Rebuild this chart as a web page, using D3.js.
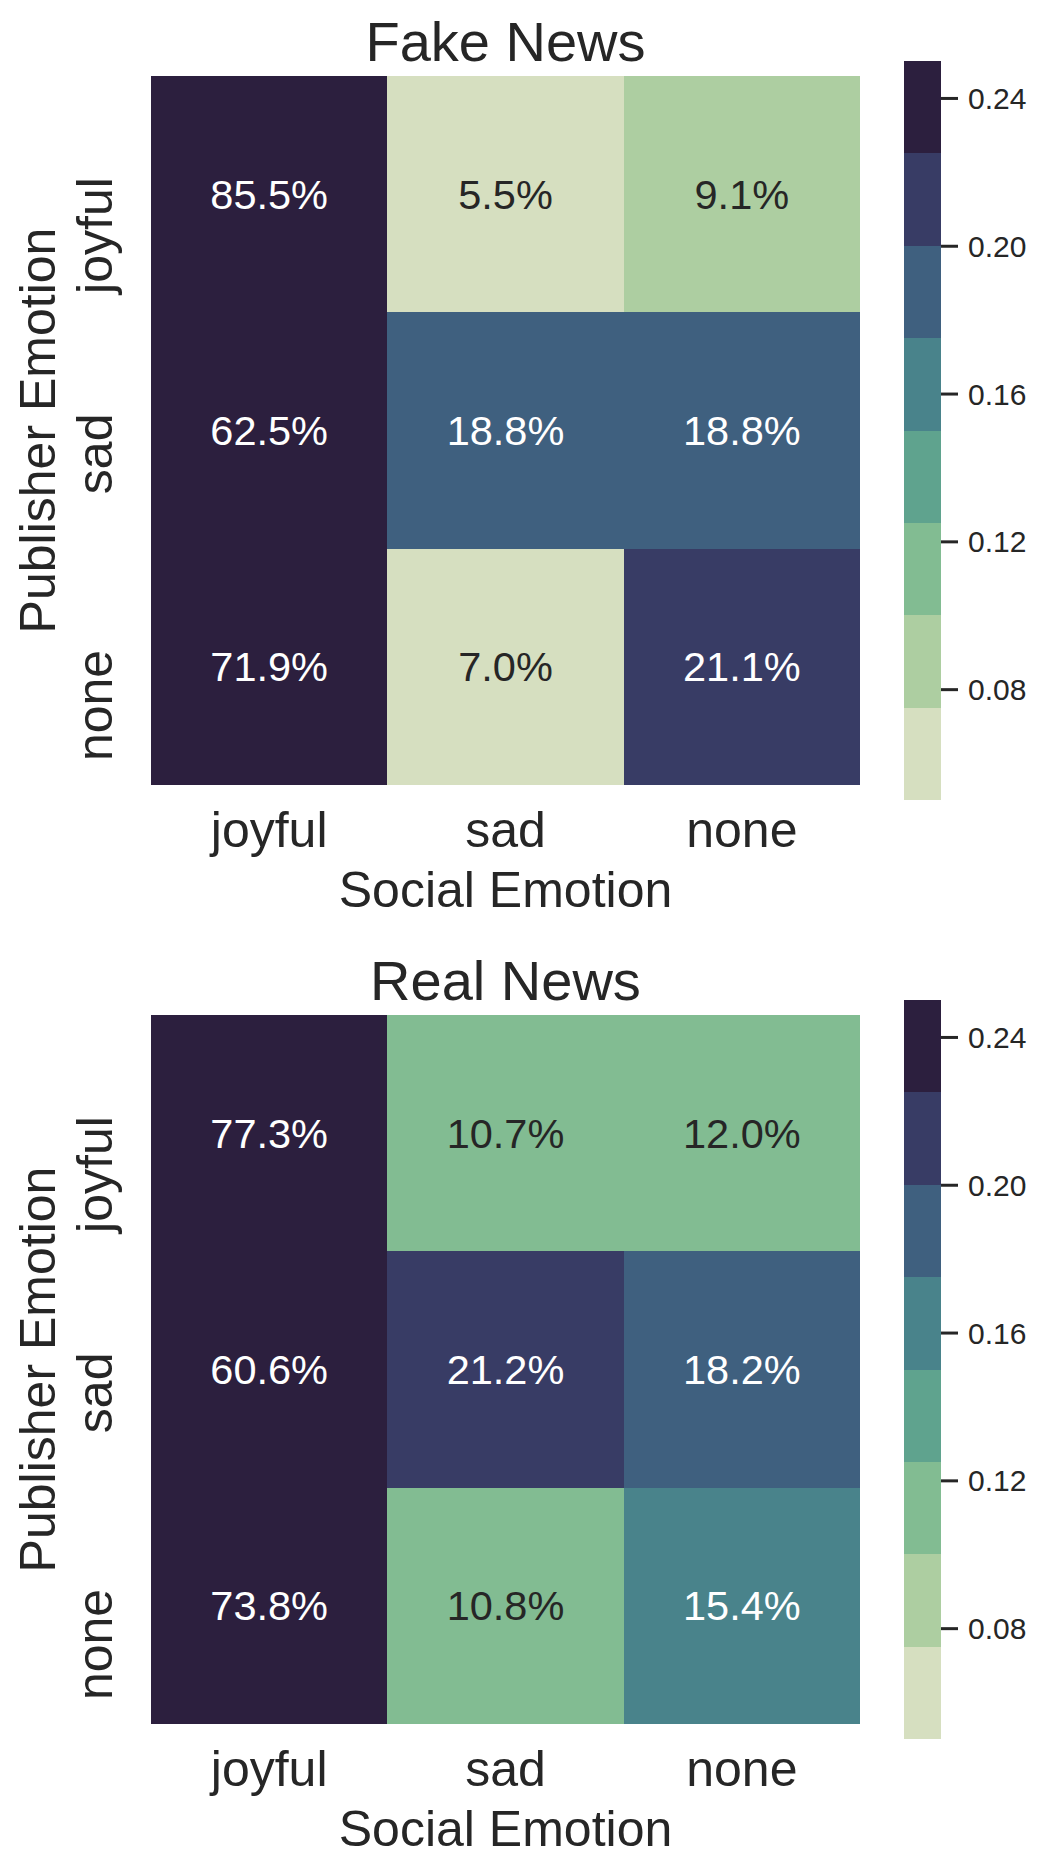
<!DOCTYPE html>
<html>
<head>
<meta charset="utf-8">
<script src="https://cdn.jsdelivr.net/npm/d3@7"></script>
<style>
  html, body { margin: 0; padding: 0; background: #ffffff; }
  svg { display: block; }
  text { font-family: "Liberation Sans", Arial, sans-serif; }
</style>
</head>
<body>
<svg id="chart" width="1046" height="1875"></svg>
<script>
// ---------- data ----------
const socialEmotions = ["joyful", "sad", "none"];      // columns (x)
const publisherEmotions = ["joyful", "sad", "none"];   // rows (y)
const panelTitles = ["Fake News", "Real News"];
// row-wise percentages (rows = publisher emotion, cols = social emotion)
const fakeNewsPct = [
  [85.5, 5.5, 9.1],
  [62.5, 18.8, 18.8],
  [71.9, 7.0, 21.1]
];
const realNewsPct = [
  [77.3, 10.7, 12.0],
  [60.6, 21.2, 18.2],
  [73.8, 10.8, 15.4]
];
const colorbarTicks = [0.08, 0.12, 0.16, 0.20, 0.24];
const colorDomain = [0.05, 0.25];
const xAxisLabel = "Social Emotion";
const yAxisLabel = "Publisher Emotion";

// ---------- palette: seaborn cubehelix_palette(8, start=.5, rot=-.75) ----------
function cubehelix(x, start = 0.5, rot = -0.75, hue = 0.8, gamma = 1) {
  const xg = Math.pow(x, gamma);
  const a = hue * xg * (1 - xg) / 2;
  const phi = 2 * Math.PI * (start / 3 + rot * x);
  const c = Math.cos(phi), s = Math.sin(phi);
  const clip = v => Math.max(0, Math.min(1, v));
  const r = clip(xg + a * (-0.14861 * c + 1.78277 * s));
  const g = clip(xg + a * (-0.29227 * c - 0.90649 * s));
  const b = clip(xg + a * (1.97294 * c));
  return d3.rgb(r * 255, g * 255, b * 255).formatHex();
}
const nColors = 8;
const palette = d3.range(nColors).map(i => cubehelix(0.85 - i * (0.7 / (nColors - 1))));

function luminance(hex) {
  const c = d3.rgb(hex);
  const lin = v => { v /= 255; return v <= 0.03928 ? v / 12.92 : Math.pow((v + 0.055) / 1.055, 2.4); };
  return 0.2126 * lin(c.r) + 0.7152 * lin(c.g) + 0.0722 * lin(c.b);
}

const color = d3.scaleQuantize().domain(colorDomain).range(palette);
const TEXT_DARK = "#262626";
const FONT = '"Liberation Sans", Arial, sans-serif';

// ---------- layout ----------
const svg = d3.select("#chart");
const HM = { left: 151, right: 860, top: 76, bottom: 785 };
const CB = { left: 904, right: 941, top: 61, bottom: 800 };
const panelOffsets = [0, 939];
const datasets = [fakeNewsPct, realNewsPct];
const LABEL_SIZE = 50;

const x = d3.scaleBand().domain(socialEmotions).range([HM.left, HM.right]);
const y = d3.scaleBand().domain(publisherEmotions).range([HM.top, HM.bottom]);
const cScale = d3.scaleLinear().domain(colorDomain).range([CB.bottom, CB.top]);

datasets.forEach((data, pi) => {
  const g = svg.append("g").attr("transform", `translate(0,${panelOffsets[pi]})`);

  const cells = [];
  data.forEach((row, ri) => row.forEach((v, ci) => {
    cells.push({ row: publisherEmotions[ri], col: socialEmotions[ci], pct: v, value: v / 100 });
  }));

  // cells
  g.append("g").selectAll("rect").data(cells).join("rect")
    .attr("x", d => x(d.col))
    .attr("y", d => y(d.row))
    .attr("width", x.bandwidth())
    .attr("height", y.bandwidth())
    .attr("fill", d => color(d.value))
    .attr("shape-rendering", "crispEdges");

  // annotations
  g.append("g").selectAll("text").data(cells).join("text")
    .attr("x", d => x(d.col) + x.bandwidth() / 2)
    .attr("y", d => y(d.row) + y.bandwidth() / 2)
    .attr("dy", "0.35em")
    .attr("text-anchor", "middle")
    .attr("font-size", 41.5)
    .attr("fill", d => luminance(color(d.value)) > 0.408 ? TEXT_DARK : "#ffffff")
    .text(d => d.pct.toFixed(1) + "%");

  // title
  g.append("text")
    .attr("x", (HM.left + HM.right) / 2)
    .attr("y", 61)
    .attr("text-anchor", "middle")
    .attr("font-size", 56)
    .attr("fill", TEXT_DARK)
    .text(panelTitles[pi]);

  // x axis
  const xAxisG = g.append("g")
    .attr("transform", `translate(0,${HM.bottom})`)
    .call(d3.axisBottom(x).tickSize(0));
  xAxisG.select(".domain").remove();
  xAxisG.selectAll("text")
    .attr("y", 847 - HM.bottom)
    .attr("dy", 0)
    .attr("font-size", LABEL_SIZE)
    .attr("font-family", FONT)
    .attr("fill", TEXT_DARK);

  g.append("text")
    .attr("x", (HM.left + HM.right) / 2)
    .attr("y", 907)
    .attr("text-anchor", "middle")
    .attr("font-size", LABEL_SIZE)
    .attr("fill", TEXT_DARK)
    .text(xAxisLabel);

  // y axis
  const yAxisG = g.append("g")
    .attr("transform", `translate(${HM.left},0)`)
    .call(d3.axisLeft(y).tickSize(0));
  yAxisG.select(".domain").remove();
  yAxisG.selectAll("text")
    .attr("x", 0).attr("y", 0).attr("dy", 0)
    .attr("text-anchor", "end")
    .attr("transform", `translate(${112 - HM.left},-17) rotate(-90)`)
    .attr("font-size", LABEL_SIZE)
    .attr("font-family", FONT)
    .attr("fill", TEXT_DARK);

  g.append("text")
    .attr("transform", `translate(55,${(HM.top + HM.bottom) / 2}) rotate(-90)`)
    .attr("text-anchor", "middle")
    .attr("font-size", LABEL_SIZE)
    .attr("fill", TEXT_DARK)
    .text(yAxisLabel);

  // colorbar
  const bandStep = (colorDomain[1] - colorDomain[0]) / nColors;
  g.append("g").selectAll("rect").data(palette).join("rect")
    .attr("x", CB.left)
    .attr("width", CB.right - CB.left)
    .attr("y", (d, i) => cScale(colorDomain[0] + (i + 1) * bandStep))
    .attr("height", (d, i) => cScale(colorDomain[0] + i * bandStep) - cScale(colorDomain[0] + (i + 1) * bandStep))
    .attr("fill", d => d)
    .attr("shape-rendering", "crispEdges");

  const cAxisG = g.append("g")
    .attr("transform", `translate(${CB.right},0)`)
    .call(d3.axisRight(cScale).tickValues(colorbarTicks).tickFormat(d3.format(".2f")).tickSize(17).tickPadding(10));
  cAxisG.select(".domain").remove();
  cAxisG.selectAll(".tick line").attr("stroke", TEXT_DARK).attr("stroke-width", 3);
  cAxisG.selectAll("text")
    .attr("dy", "0.35em")
    .attr("font-size", 30)
    .attr("font-family", FONT)
    .attr("fill", TEXT_DARK);
});
</script>
</body>
</html>
